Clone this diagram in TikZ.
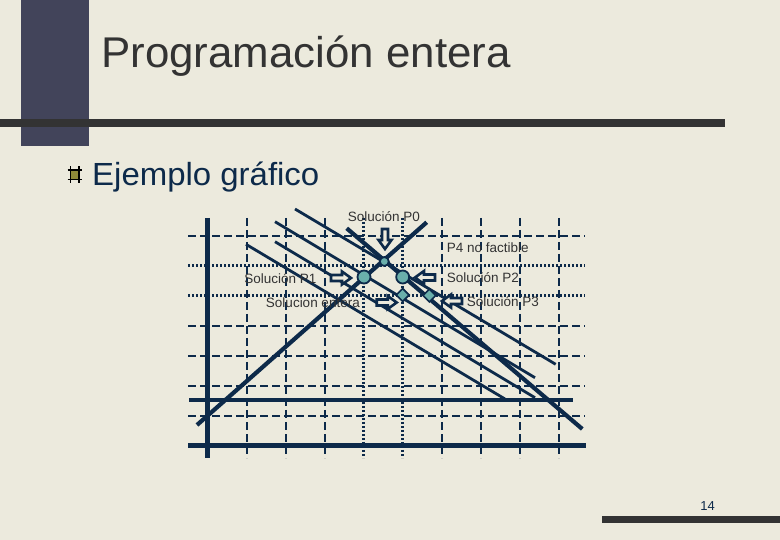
\documentclass[tikz,border=0pt]{standalone}
\usepackage{fontspec}
\setmainfont{Liberation Sans}
\definecolor{bg}{HTML}{ECEADD}
\definecolor{navy}{HTML}{0D2A4A}
\definecolor{bar}{HTML}{333333}
\definecolor{slate}{HTML}{42445A}
\definecolor{teal}{HTML}{6AAFAB}
\definecolor{txt}{HTML}{333333}
\usetikzlibrary{shapes.geometric}
\tikzset{
  gridd/.style={navy, line width=2.2pt, dash pattern=on 8pt off 4pt},
  gridp/.style={navy, line width=2.6pt, dash pattern=on 2pt off 2pt},
  axis/.style={navy, line width=4.5pt},
  constr/.style={navy, line width=4.2pt},
  objline/.style={navy, line width=2.8pt},
  solpt/.style={circle, draw=navy, fill=teal, line width=1.8pt, inner sep=0pt, minimum size=#1},
  solpt/.default=13pt,
  diam/.style={diamond, draw=navy, fill=teal, line width=1.6pt, inner sep=0pt, minimum size=13.5pt},
  lbl/.style={font=\fontsize{13.5}{15}\selectfont, text=txt, inner sep=0pt},
  barrow/.pic={\draw[navy, line width=2.6pt, fill=bg, line join=miter] (-10,-3) -- (1,-3) -- (1,-6.5) -- (10,0) -- (1,6.5) -- (1,3) -- (-10,3) -- cycle;}
}
\begin{document}
\begin{tikzpicture}[x=1pt,y=-1pt]
\useasboundingbox (0,0) rectangle (780,540);
\fill[bg] (0,0) rectangle (780,540);
% header
\fill[slate] (21,0) rectangle (89,145.7);
\fill[bar] (0,119) rectangle (725,126.7);
\node[anchor=base west, inner sep=0pt, text=txt, font=\fontsize{43}{46}\selectfont] (title) at (101,68) {\scalebox{1.02}[1]{Programación entera}};
% bullet
\fill[olive!60!gray] (69.5,169.5) rectangle (80,180);
\draw[black, line width=1.3pt] (70.5,166.5) -- (70.5,183) (79,166.5) -- (79,183) (67.5,170) -- (82,170) (67.5,179.5) -- (82,179.5);
\node[anchor=base west, inner sep=0pt, text=navy, font=\fontsize{32}{36}\selectfont] (sub) at (92,186) {\scalebox{1.03}[1]{Ejemplo gráfico}};
% footer
\fill[bar] (601.7,516) rectangle (780,522.7);
\node[anchor=base, inner sep=0pt, text=navy, font=\fontsize{13}{15}\selectfont] (pg) at (707.5,510) {14};
% grid
\foreach \x in {246.7,285.7,324.7,441.7,480.7,519.7,558.7}
  \draw[gridd] (\x,218) -- (\x,458);
\foreach \x in {363.7,402.7}
  \draw[gridp] (\x,218) -- (\x,458);
\foreach \y in {235.7,325.7,355.7,385.7,415.7}
  \draw[gridd] (188,\y) -- (585,\y);
\foreach \y in {265.7,295.7}
  \draw[gridp] (188,\y) -- (585,\y);
% axes
\draw[axis] (207.7,218) -- (207.7,458);
\draw[axis] (188,445.7) -- (586,445.7);
\draw[constr] (189,400) -- (572.7,400);
% constraints
\coordinate (l1) at (197,425);
\coordinate (l2) at (426.7,222.3);
\coordinate (r1) at (346.7,228.3);
\coordinate (r2) at (582.3,429);
\draw[constr] (l1) -- (l2);
\draw[constr] (r1) -- (r2);
% objective lines
\coordinate (a1) at (295,209);   \coordinate (a2) at (555.7,364.3);
\coordinate (b1) at (275,221.7); \coordinate (b2) at (535,377.7);
\coordinate (c1) at (275,241.7); \coordinate (c2) at (535,397.7);
\coordinate (d1) at (246,244.3); \coordinate (d2) at (505,399);
\draw[objline] (a1) -- (a2);
\draw[objline] (b1) -- (b2);
\draw[objline] (c1) -- (c2);
\draw[objline] (d1) -- (d2);
% solution points
\node[solpt=9pt] (p0) at (384.3,261.5) {};
\node[solpt] (p1) at (364,277) {};
\node[solpt] (p2) at (402.7,277) {};
\node[diam] (pe) at (402.7,295) {};
\node[diam] (p3) at (429.3,295.5) {};
% arrows
\pic[rotate=-90] at (385,239) {barrow};
\pic at (341,278) {barrow};
\pic[rotate=180] at (425,277.5) {barrow};
\pic at (386.7,302.5) {barrow};
\pic[rotate=180] at (452,301) {barrow};
% labels
\node[lbl] (t0) at (384,216.5) {Solución P0};
\node[lbl, anchor=west] (t4) at (446.7,248) {P4 no factible};
\node[lbl, anchor=east] (t1) at (316.7,278.5) {Solución P1};
\node[lbl, anchor=west] (t2) at (446.7,277.5) {Solución P2};
\node[lbl, anchor=east] (te) at (360,303) {Solucion entera};
\node[lbl, anchor=west] (t3) at (466.7,302) {Solución P3};
\end{tikzpicture}
\end{document}
